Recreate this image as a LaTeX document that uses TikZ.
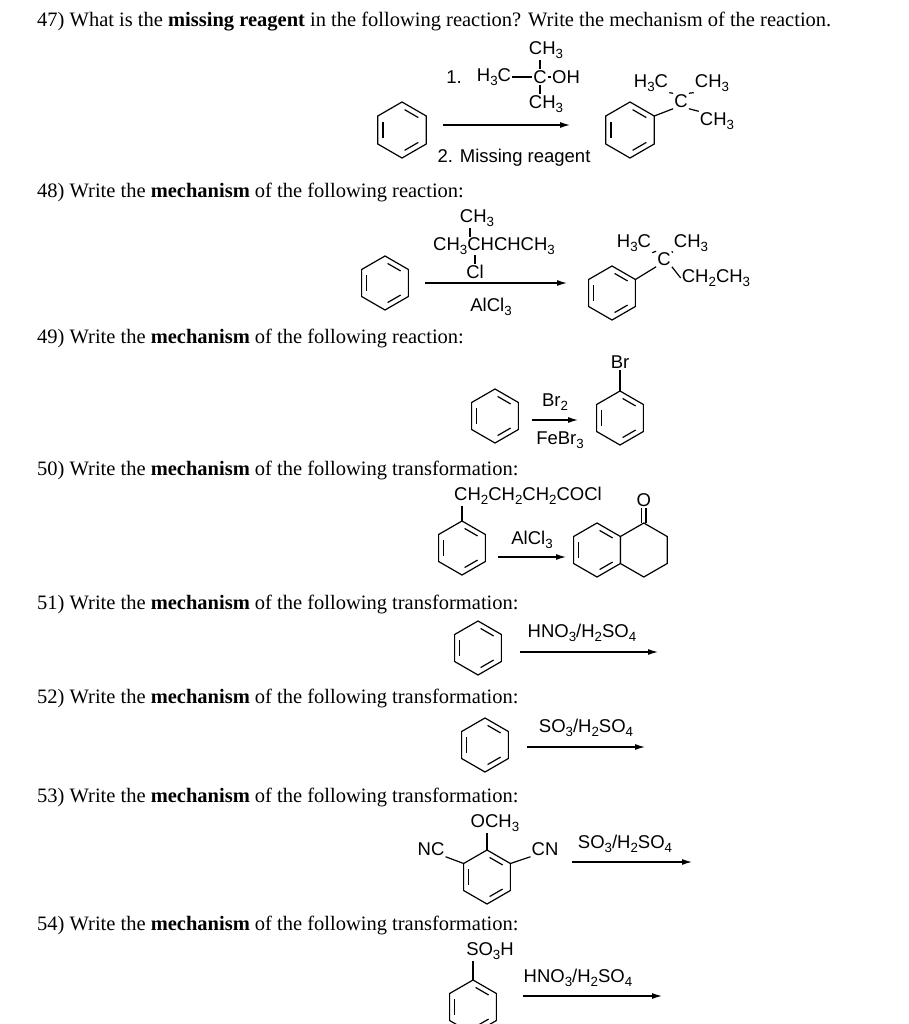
\documentclass[tikz,border=0pt]{standalone}
\usepackage{fontspec}
\setmainfont{Liberation Serif}
\newfontfamily\chemf{Liberation Sans}
\usetikzlibrary{calc,arrows.meta}
\newcommand\ssub[1]{\raisebox{-0.4ex}{\scalebox{0.72}{#1}}}
\tikzset{
  q/.style={anchor=west,inner sep=0,font=\fontsize{20.5}{24}\selectfont},
  ch/.style={inner sep=1pt,font=\chemf\fontsize{18.5}{20}\selectfont},
  bond/.style={line width=1.2pt},
  rxn/.style={line width=1.2pt,-{Latex[length=10pt,width=6pt]}}
}
% ring: name, cx, cy, r
\newcommand\benzring[4]{%
  \coordinate (#1) at (#2,#3);
  \foreach \i/\a in {1/30,2/90,3/150,4/210,5/270,6/330}{\coordinate (#1-\i) at ($(#2,#3)+(\a:#4)$);}
  \draw[bond] (#1-1)--(#1-2)--(#1-3)--(#1-4)--(#1-5)--(#1-6)--cycle;
  \foreach \u/\v in {1/2,3/4,5/6}{\draw[bond,shorten <=3pt,shorten >=3pt] ($(#1)!0.78!(#1-\u)$)--($(#1)!0.78!(#1-\v)$);}
}
\begin{document}
\begin{tikzpicture}[x=1pt,y=-1pt]
\useasboundingbox (0,0) rectangle (909,1024);
\fill[white] (0,0) rectangle (909,1024);
% 47
\node[q] (q47) at (37,22) {47) What is the \textbf{missing reagent} in the following reaction? Write the mechanism of the reaction.};
\benzring{a}{402}{130}{28}
\node[ch] (a1) at (454,77) {1.};
\node[ch] (ah3c) at (494,77) {H\ssub{3}C};
\node[ch] (ac) at (540,77) {C};
\node[ch] (aoh) at (566,77) {OH};
\node[ch] (at) at (546,50) {CH\ssub{3}};
\node[ch] (ab) at (546,104) {CH\ssub{3}};
\draw[bond] (ah3c.east)--(ac.west) (ac.east)--(aoh.west) (ac.north)--(ac.north|-at.south) (ac.south)--(ac.south|-ab.north);
\draw[rxn] (443,125)--(570,125);
\node[ch] (amr) at (514,158) {2. Missing reagent};
\benzring{ap}{630}{130}{28}
\node[ch] (apc) at (681,101) {C};
\node[ch] (aph) at (651,83) {H\ssub{3}C};
\node[ch] (apm1) at (712,83) {CH\ssub{3}};
\node[ch] (apm2) at (717,121) {CH\ssub{3}};
\draw[bond] (ap-6)--(apc.south west) (apc.north west)--(aph.south east) (apc.north east)--(apm1.south west) (apc.south east)--(apm2.north west);
% 48
\node[q] (q48) at (37,192) {48) Write the \textbf{mechanism} of the following reaction:};
\benzring{b}{385}{283}{27}
\node[ch] (bt) at (477,218) {CH\ssub{3}};
\node[ch] (bm) at (494,246) {CH\ssub{3}CHCHCH\ssub{3}};
\node[ch] (bcl) at (475,272) {Cl};
\draw[bond] (470,228)--(470,237) (475,255)--(475,264);
\draw[rxn] (425,283)--(567,283);
\node[ch] (bal) at (491,307) {AlCl\ssub{3}};
\benzring{bp}{612}{293}{27}
\node[ch] (bpc) at (664,259) {C};
\node[ch] (bph) at (634,243) {H\ssub{3}C};
\node[ch] (bpm) at (691,243) {CH\ssub{3}};
\node[ch] (bpe) at (716,278) {CH\ssub{2}CH\ssub{3}};
\draw[bond] (bp-6)--(bpc.south west) (bpc.north west)--(bph.south east) (bpc.north east)--(bpm.south west) (bpc.south east)--(bpe.west);
% 49
\node[q] (q49) at (37,338) {49) Write the \textbf{mechanism} of the following reaction:};
\benzring{c}{495}{416}{27}
\draw[rxn] (532,420)--(578,420);
\node[ch] (cbr) at (555,402) {Br\ssub{2}};
\node[ch] (cfe) at (560,440) {FeBr\ssub{3}};
\benzring{cp}{620}{418}{27}
\node[ch] (cpb) at (620,362) {Br};
\draw[bond] (cp-5)--(cpb.south);
% 50
\node[q] (q50) at (37,470) {50) Write the \textbf{mechanism} of the following transformation:};
\benzring{d}{462}{548}{27}
\node[ch,anchor=west] (dch) at (453,496) {CH\ssub{2}CH\ssub{2}CH\ssub{2}COCl};
\draw[bond] (d-5)--(462,506);
\draw[rxn] (498,557)--(566,557);
\node[ch] (dal) at (532,540) {AlCl\ssub{3}};
\benzring{dp}{597}{550}{27}
\foreach \i/\a in {1/30,2/90,3/150,4/210,5/270,6/330}{\coordinate (r-\i) at ($(643.8,550)+(\a:27)$);}
\draw[bond] (r-3)--(r-4)--(r-5)--(r-6)--(r-1)--(r-2)--(r-3);
\node[ch] (do) at ($(r-5)+(0,-23)$) {O};
\draw[bond] ($(r-5)+(-2.2,0)$)--($(do.south)+(-2.2,0)$) ($(r-5)+(2.2,0)$)--($(do.south)+(2.2,0)$);
% 51
\node[q] (q51) at (37,604) {51) Write the \textbf{mechanism} of the following transformation:};
\benzring{f}{478}{648}{27}
\draw[rxn] (520,652)--(658,652);
\node[ch] (fl) at (582,633) {HNO\ssub{3}/H\ssub{2}SO\ssub{4}};
% 52
\node[q] (q52) at (37,698) {52) Write the \textbf{mechanism} of the following transformation:};
\benzring{g}{485}{745}{27}
\draw[rxn] (527,747)--(645,747);
\node[ch] (gl) at (586,728) {SO\ssub{3}/H\ssub{2}SO\ssub{4}};
% 53
\node[q] (q53) at (37,797) {53) Write the \textbf{mechanism} of the following transformation:};
\benzring{h}{487}{877}{27}
\node[ch] (ho) at (495,823) {OCH\ssub{3}};
\draw[bond] (h-5)--(487,833);
\node[ch] (hnc) at (431,849) {NC};
\node[ch] (hcn) at (545,849) {CN};
\draw[bond] (h-4)--(hnc.south east) (h-6)--(hcn.south west);
\draw[rxn] (572,862)--(692,862);
\node[ch] (hl) at (625,844) {SO\ssub{3}/H\ssub{2}SO\ssub{4}};
% 54
\node[q] (q54) at (37,925) {54) Write the \textbf{mechanism} of the following transformation:};
\benzring{k}{473}{1007}{27}
\node[ch] (ks) at (490,951) {SO\ssub{3}H};
\draw[bond] (k-5)--(473,961);
\draw[rxn] (523,996)--(662,996);
\node[ch] (kl) at (578,978) {HNO\ssub{3}/H\ssub{2}SO\ssub{4}};
\end{tikzpicture}
\end{document}
